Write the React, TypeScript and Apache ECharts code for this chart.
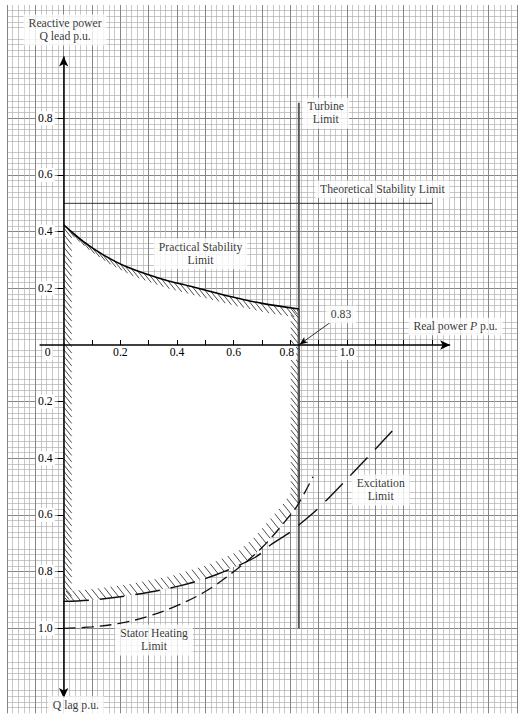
import React, { useEffect, useRef } from "react";
import * as echarts from "echarts";

const SERIF = "'Liberation Serif', 'Times New Roman', serif";
const FS = 11.7;

// ---- data (P real power, Q: lead +, lag -) ----
const practicalStability: number[][] = [
  [0, 0.424], [0.07, 0.365], [0.14, 0.318], [0.22, 0.277], [0.34, 0.235],
  [0.46, 0.204], [0.58, 0.173], [0.7, 0.147], [0.83, 0.127],
];
const statorHeating: number[][] = [
  [0, -1.0], [0.1, -0.995], [0.2, -0.982], [0.3, -0.957], [0.4, -0.92],
  [0.5, -0.87], [0.6, -0.8], [0.7, -0.715], [0.8, -0.6], [0.83, -0.558], [0.88, -0.465],
];
const excitationLimit: number[][] = [
  [0, -0.905], [0.1, -0.9], [0.245, -0.882], [0.41, -0.85], [0.54, -0.81],
  [0.675, -0.75], [0.73, -0.706], [0.8, -0.66], [0.834, -0.632], [0.9, -0.575],
  [0.98, -0.494], [1.075, -0.394], [1.163, -0.3],
];
const turbineP = 0.83;
const turbineSpan = [-1.0, 0.855];
const theoreticalQ = 0.5;
const theoreticalSpan = [0, 1.3];

// tick labels
const xTicks = [0.1, 0.2, 0.3, 0.4, 0.5, 0.6, 0.7, 0.8, 0.9, 1.0, 1.1, 1.2, 1.3];
const xTickLabels = [0, 0.2, 0.4, 0.6, 0.8, 1.0];
const leadTickLabels = [0.2, 0.4, 0.6, 0.8];
const lagTickLabels = [0.2, 0.4, 0.6, 0.8, 1.0];

// axis ranges (graph paper extent)
const X_MIN = -0.2, X_MAX = 1.6, Y_MIN = -1.3, Y_MAX = 1.2;
const GRID = { left: 7, right: 9, top: 5, bottom: 10.67 };
const W = 526, H = 724;

function interpQ(pts: number[][], p: number): number {
  if (p <= pts[0][0]) return pts[0][1];
  for (let i = 0; i < pts.length - 1; i++) {
    const [x0, y0] = pts[i];
    const [x1, y1] = pts[i + 1];
    if (p >= x0 && p <= x1) return y0 + ((y1 - y0) * (p - x0)) / (x1 - x0);
  }
  return pts[pts.length - 1][1];
}

function lowerBoundary(): number[][] {
  const set = new Set<number>();
  [...statorHeating, ...excitationLimit].forEach(([p]) => {
    if (p <= turbineP) set.add(p);
  });
  set.add(0);
  set.add(turbineP);
  const ps = [...set].sort((a, b) => a - b);
  const f = (p: number) => Math.max(interpQ(excitationLimit, p), interpQ(statorHeating, p));
  const out: number[][] = [];
  for (let i = 0; i < ps.length; i++) {
    const p = ps[i];
    out.push([p, f(p)]);
    if (i < ps.length - 1) {
      const q = ps[i + 1];
      const d0 = interpQ(excitationLimit, p) - interpQ(statorHeating, p);
      const d1 = interpQ(excitationLimit, q) - interpQ(statorHeating, q);
      if (d0 * d1 < 0) {
        const pc = p + (d0 / (d0 - d1)) * (q - p);
        out.push([pc, interpQ(statorHeating, pc)]);
      }
    }
  }
  return out;
}

function walk(pts: number[][], step: number, start: number): number[][] {
  const res: number[][] = [];
  let carry = start;
  for (let i = 0; i < pts.length - 1; i++) {
    const [x0, y0] = pts[i];
    const [x1, y1] = pts[i + 1];
    const len = Math.hypot(x1 - x0, y1 - y0);
    if (len === 0) continue;
    let d = carry;
    while (d <= len) {
      res.push([x0 + ((x1 - x0) * d) / len, y0 + ((y1 - y0) * d) / len]);
      d += step;
    }
    carry = d - len;
  }
  return res;
}

function yAtPx(poly: number[][], x: number): number {
  const s = [...poly].sort((a, b) => a[0] - b[0]);
  if (x <= s[0][0]) return s[0][1];
  for (let i = 0; i < s.length - 1; i++) {
    if (x >= s[i][0] && x <= s[i + 1][0]) {
      const dx = s[i + 1][0] - s[i][0];
      if (dx === 0) return Math.min(s[i][1], s[i + 1][1]);
      return s[i][1] + ((s[i + 1][1] - s[i][1]) * (x - s[i][0])) / dx;
    }
  }
  return s[s.length - 1][1];
}

const tickLabelStyle = {
  fontFamily: SERIF,
  fontSize: FS,
  color: "#000",
};

export default function App() {
  const ref = useRef<HTMLDivElement>(null);

  useEffect(() => {
    if (!ref.current) return;
    const chart = echarts.init(ref.current, undefined, { renderer: "svg" });
    const lower = lowerBoundary();
    const lowerAtTurbine = lower[lower.length - 1][1];

    // place the drawn axes on the zero lines of the other axis
    const plotW = W - GRID.left - GRID.right;
    const plotH = H - GRID.top - GRID.bottom;
    const xAxisOffset = -(plotH * (0 - Y_MIN)) / (Y_MAX - Y_MIN);
    const yAxisOffset = -(plotW * (0 - X_MIN)) / (X_MAX - X_MIN);

    const annotations = [
      { text: "Reactive power\nQ lead p.u.", at: [0.005, 1.112] },
      { text: "Q lag p.u.", at: [0.043, -1.271] },
      { text: "Real power {i|P} p.u.", at: [1.383, 0.065] },
      { text: "Turbine\nLimit", at: [0.925, 0.818] },
      { text: "Theoretical Stability Limit", at: [1.125, 0.55] },
      { text: "0.83", at: [0.979, 0.108] },
      { text: "Practical Stability\nLimit", at: [0.483, 0.322] },
      { text: "Excitation\nLimit", at: [1.119, -0.512] },
      { text: "Stator Heating\nLimit", at: [0.319, -1.041] },
    ];

    const paperX = {
      type: "value",
      min: X_MIN,
      max: X_MAX,
      interval: 0.1,
      position: "bottom",
      axisLine: { show: false, onZero: false },
      axisTick: { show: false },
      axisLabel: { show: false },
      minorTick: { show: false, splitNumber: 5 },
      splitLine: { show: true, lineStyle: { color: "#858585", width: 1 } },
      minorSplitLine: { show: true, lineStyle: { color: "#b0b0b0", width: 0.7 } },
    };

    const option: any = {
      animation: false,
      backgroundColor: "#fff",
      grid: { ...GRID, containLabel: false, outerBoundsMode: "none" },
      xAxis: [
        paperX,
        {
          type: "value",
          min: X_MIN,
          max: X_MAX,
          interval: 0.1,
          position: "bottom",
          offset: xAxisOffset,
          z: 10,
          axisLine: { show: false, onZero: false },
          splitLine: { show: false },
          minorSplitLine: { show: false },
          axisTick: {
            show: true,
            inside: true,
            length: 5,
            customValues: xTicks,
            lineStyle: { color: "#000", width: 1 },
          },
          axisLabel: {
            show: true,
            customValues: xTickLabels,
            margin: 1,
            formatter: (v: number) => {
              const r = Math.round(v * 10) / 10;
              if (r === 0) return "{t|0}{s| }";
              if (r === 0.8) return "{t|0.8}{m| }";
              return "{t|" + r.toFixed(1) + "}";
            },
            rich: {
              t: { ...tickLabelStyle, backgroundColor: "#fff", padding: [1, 2] },
              s: { width: 32, fontSize: FS },
              m: { width: 7, fontSize: FS },
            },
          },
        },
      ],
      yAxis: {
        type: "value",
        min: Y_MIN,
        max: Y_MAX,
        interval: 0.1,
        position: "left",
        offset: yAxisOffset,
        axisLine: { show: false, onZero: false },
        axisTick: {
          show: true,
          inside: false,
          length: 6,
          customValues: [...leadTickLabels, ...lagTickLabels.map((v) => -v)],
          lineStyle: { color: "#000", width: 1 },
        },
        minorTick: { show: false, splitNumber: 5 },
        splitLine: { show: true, lineStyle: { color: "#858585", width: 1 } },
        minorSplitLine: { show: true, lineStyle: { color: "#b0b0b0", width: 0.7 } },
        axisLabel: {
          show: true,
          customValues: [...leadTickLabels, ...lagTickLabels.map((v) => -v)],
          margin: 9,
          ...tickLabelStyle,
          backgroundColor: "#fff",
          padding: [1, 2],
          formatter: (v: number) => Math.abs(v).toFixed(1),
        },
      },
      series: [
        {
          // white feasible region
          type: "custom",
          coordinateSystem: "cartesian2d",
          silent: true,
          data: [[0, 0]],
          renderItem: (_p: any, api: any) => {
            const top = practicalStability.map((p) => api.coord(p));
            const low = lower.map((p) => api.coord(p));
            return {
              type: "polygon",
              shape: { points: [...top, ...low.slice().reverse()] },
              style: { fill: "#fff", stroke: "none" },
            };
          },
        },
        {
          name: "Turbine Limit",
          type: "line",
          silent: true,
          symbol: "none",
          data: turbineSpan.map((q) => [turbineP, q]),
          lineStyle: { color: "#5a5a5a", width: 2 },
        },
        {
          name: "Theoretical Stability Limit",
          type: "line",
          silent: true,
          symbol: "none",
          data: theoreticalSpan.map((p) => [p, theoreticalQ]),
          lineStyle: { color: "#333", width: 1 },
        },
        {
          name: "Practical Stability Limit",
          type: "line",
          silent: true,
          symbol: "none",
          smooth: 0.35,
          data: practicalStability,
          lineStyle: { color: "#000", width: 1.6 },
        },
        {
          name: "Stator Heating Limit",
          type: "line",
          silent: true,
          symbol: "none",
          smooth: 0.35,
          data: statorHeating,
          lineStyle: { color: "#111", width: 1.3, type: [12, 6] },
        },
        {
          name: "Excitation Limit",
          type: "line",
          silent: true,
          symbol: "none",
          smooth: 0.35,
          data: excitationLimit,
          lineStyle: { color: "#111", width: 1.4, type: [25, 11] },
        },
        {
          // hatching along the inside of the boundary + right edge
          type: "custom",
          coordinateSystem: "cartesian2d",
          silent: true,
          data: [[0, 0]],
          renderItem: (_p: any, api: any) => {
            const topPx = practicalStability.map((p) => api.coord(p));
            const lowPx = lower.map((p) => api.coord(p));
            const tl = api.coord(practicalStability[0]);
            const bl = api.coord(lower[0]);
            const tr = api.coord(practicalStability[practicalStability.length - 1]);
            const br = api.coord([turbineP, lowerAtTurbine]);
            const xLeft = tl[0];
            const xRight = tr[0];
            const step = 6.4;
            const kx = 0.8; // stroke slope: dx = kx * dy
            const children: any[] = [];
            const add = (a: number[], b: number[]) =>
              children.push({
                type: "line",
                shape: { x1: a[0], y1: a[1], x2: b[0], y2: b[1] },
                style: { stroke: "#111", lineWidth: 0.75 },
              });
            walk([tl, bl], step, 3).forEach((p) => {
              let L = 10;
              while (L > 0 && p[1] + L > yAtPx(lowPx, p[0] + kx * L) - 1) L -= 0.5;
              if (L > 1) add(p, [p[0] + kx * L, p[1] + L]);
            });
            walk(topPx, step, 4).forEach((p) => {
              let L = 10;
              while (L > 0 && p[0] + kx * L > xRight - 1) L -= 0.5;
              if (L > 1) add(p, [p[0] + kx * L, p[1] + L]);
            });
            walk([tr, br], step, 3).forEach((p) => {
              let L = 10;
              while (L > 0 && p[1] - L < yAtPx(topPx, p[0] - kx * L) + 1) L -= 0.5;
              if (L > 1) add([p[0] - kx * L, p[1] - L], p);
            });
            walk(lowPx, step, 4).forEach((p) => {
              let L = 10;
              while (L > 0 && p[0] - kx * L < xLeft + 1) L -= 0.5;
              if (L > 1) add([p[0] - kx * L, p[1] - L], p);
            });
            children.push({
              type: "line",
              shape: { x1: tr[0], y1: tr[1], x2: br[0], y2: br[1] },
              style: { stroke: "#000", lineWidth: 2 },
            });
            return { type: "group", children };
          },
        },
        {
          // axes with arrows and the 0.83 pointer
          type: "line",
          silent: true,
          symbol: "none",
          data: [[0, 0]],
          lineStyle: { opacity: 0 },
          markLine: {
            silent: true,
            animation: false,
            symbol: ["none", "arrow"],
            symbolSize: [7, 10],
            label: { show: false },
            emphasis: { disabled: true },
            lineStyle: { color: "#000", width: 1.5, type: "solid" },
            data: [
              [{ coord: [-0.085, 0], symbol: "none" }, { coord: [1.364, 0], symbol: "arrow" }],
              [{ coord: [0, -1.246], symbol: "arrow" }, { coord: [0, 1.018], symbol: "arrow" }],
              [
                { coord: [0.94, 0.079], symbol: "none", lineStyle: { width: 0.8 } },
                { coord: [0.833, 0.002], symbol: "arrow", symbolSize: [5, 8] },
              ],
            ],
          },
        },
        {
          type: "scatter",
          silent: true,
          symbolSize: 1,
          itemStyle: { color: "transparent" },
          z: 5,
          label: {
            show: true,
            position: "inside",
            fontFamily: SERIF,
            fontSize: FS,
            color: "#000",
            lineHeight: 13.5,
            backgroundColor: "#fff",
            padding: [2, 5],
            rich: {
              i: { fontFamily: SERIF, fontSize: FS, color: "#000", fontStyle: "italic" },
            },
          },
          data: annotations.map((a) => ({ value: a.at, label: { formatter: a.text } })),
        },
      ],
    };
    chart.setOption(option);
    return () => chart.dispose();
  }, []);

  return (
    <div
      ref={ref}
      style={{ position: "absolute", left: 0, top: 0, width: W, height: H, background: "#fff" }}
    />
  );
}
